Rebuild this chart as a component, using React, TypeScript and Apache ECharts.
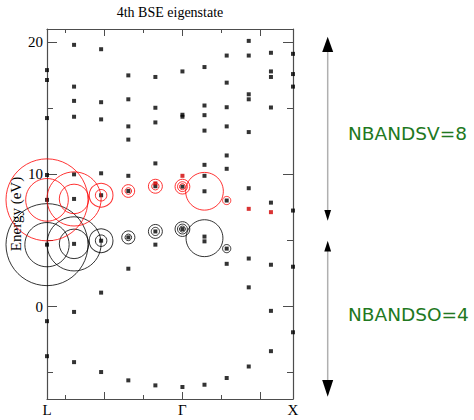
import { useEffect, useRef } from 'react';
import * as echarts from 'echarts';

// k-path positions (2pi/a), Gamma at 0
const kPoints = [-0.866, -0.693, -0.52, -0.346, -0.173, 0, 0.141, 0.283, 0.424, 0.566, 0.707];
const kLabelValues = [-0.866, 0, 0.707];
const kLabelNames = ['L', 'Γ', 'X'];
const kMajorTicks = [-0.5, 0, 0.5];
const kMinorTicks = [-0.75, -0.25, 0.25];

const energyMajorTicks = [0, 10, 20];
const energyMinorTicks = [-5, 5, 15];

// band energies (eV) at each k-point
const bandsL = [17.89, 17.14, 14.26, 9.95, 8.07, 4.68, -1.11, -3.76];
const bandsK1 = [19.8, 16.64, 15.56, 14.36, 10.0, 8.14, 4.74, -0.41, -4.21];
const bandsK2 = [19.47, 15.46, 14.16, 10.08, 8.42, 4.98, 1.05, -4.96];
const bandsK3 = [17.49, 15.68, 13.63, 12.63, 9.89, 8.74, 5.23, 2.86, -5.59];
const bandsK4 = [17.37, 15.04, 13.93, 10.83, 9.1, 5.68, 4.68, -5.97];
const bandsG = [17.79, 14.51, 14.36, 9.07, 5.86, -6.09];
const bandsK6 = [18.12, 15.21, 14.48, 13.31, 10.72, 9.89, 8.72, 5.29, 4.93, -5.92];
const bandsK7 = [18.99, 16.94, 15.08, 13.63, 11.43, 10.42, 8.02, 4.38, 3.23, -5.41];
const bandsK8 = [20.1, 18.99, 16.06, 15.68, 13.2, 8.95, 3.63, 1.45, -4.54];
const bandsK9 = [19.2, 17.79, 17.37, 15.06, 7.86, 3.16, -0.33, -3.38];
const bandsX = [19.12, 17.59, 16.64, 7.26, 3.01, -1.95];
const bandsByK = [bandsL, bandsK1, bandsK2, bandsK3, bandsK4, bandsG, bandsK6, bandsK7, bandsK8, bandsK9, bandsX];

// bands drawn in red
const redBandK = [4, 5, 8, 9];
const redBandE = [9.32, 9.89, 7.39, 7.14];

// exciton weights (circle size) on the conduction (red) and valence (black) bands
const redRingK = [0, 0, 1, 1, 2, 2, 3, 3, 4, 4, 5, 5, 5, 6, 7];
const redRingE = [8.07, 8.07, 8.14, 8.14, 8.42, 8.42, 8.74, 8.74, 9.1, 9.1, 9.07, 9.07, 9.07, 8.72, 8.02];
const redRingW = [1.0, 0.52, 0.66, 0.36, 0.29, 0.14, 0.155, 0.08, 0.17, 0.09, 0.18, 0.12, 0.073, 0.46, 0.1];

const blackRingK = [0, 0, 1, 1, 2, 2, 3, 3, 4, 4, 5, 5, 5, 6, 7];
const blackRingE = [4.68, 4.68, 4.74, 4.74, 4.98, 4.98, 5.23, 5.23, 5.68, 5.68, 5.86, 5.86, 5.86, 5.17, 4.38];
const blackRingW = [1.0, 0.54, 0.66, 0.36, 0.29, 0.14, 0.16, 0.08, 0.17, 0.1, 0.18, 0.12, 0.073, 0.45, 0.1];

const frameColor = '#4d4d4d';
const serif = 'Liberation Serif, Times New Roman, serif';
const ringScale = 82;

const xAxisFor = (position: string, ticks: number[], len: number, showLine: boolean, withLabels: boolean) => ({
  type: 'value',
  position,
  min: -0.866,
  max: 0.707,
  axisLine: { show: showLine, onZero: false, lineStyle: { color: frameColor, width: 1.2 } },
  axisTick: { show: true, inside: true, length: len, customValues: ticks, lineStyle: { color: frameColor, width: 1 } },
  axisLabel: withLabels
    ? {
        show: true,
        customValues: kLabelValues,
        showMinLabel: true,
        showMaxLabel: true,
        margin: 3,
        fontFamily: serif,
        fontSize: 15,
        color: '#000',
        formatter: (v: number) => {
          const i = kLabelValues.findIndex((c) => Math.abs(c - v) < 1e-6);
          return i >= 0 ? kLabelNames[i] : '';
        },
      }
    : { show: false },
  splitLine: { show: false },
});

const yAxisFor = (position: string, ticks: number[], len: number, showLine: boolean, withLabels: boolean) => ({
  type: 'value',
  position,
  min: -7,
  max: 21,
  axisLine: { show: showLine, onZero: false, lineStyle: { color: frameColor, width: 1.2 } },
  axisTick: { show: true, inside: true, length: len, customValues: ticks, lineStyle: { color: frameColor, width: 1 } },
  axisLabel: withLabels
    ? {
        show: true,
        customValues: energyMajorTicks,
        showMinLabel: true,
        showMaxLabel: true,
        margin: 4,
        fontFamily: serif,
        fontSize: 15,
        color: '#000',
      }
    : { show: false },
  splitLine: { show: false },
  ...(withLabels
    ? {
        name: 'Energy (eV)',
        nameLocation: 'middle',
        nameRotate: 90,
        nameGap: 24,
        nameMoveOverlap: false,
        nameTextStyle: { fontFamily: serif, fontSize: 15, color: '#000' },
      }
    : {}),
});

const App = () => {
  const chartRef = useRef<HTMLDivElement>(null);

  useEffect(() => {
    const chart = echarts.init(chartRef.current!, null, { renderer: 'svg' });

    const bandPoints: number[][] = [];
    bandsByK.forEach((list, i) => list.forEach((e) => bandPoints.push([kPoints[i], e])));
    const redPoints = redBandK.map((k, i) => [kPoints[k], redBandE[i]]);
    const redRings = redRingK.map((k, i) => [kPoints[k], redRingE[i], redRingW[i]]);
    const blackRings = blackRingK.map((k, i) => [kPoints[k], blackRingE[i], blackRingW[i]]);

    const arrowLine = { stroke: '#b0b0b0', lineWidth: 1.5 };
    const ax = 327.7;

    chart.setOption({
      animation: false,
      backgroundColor: '#fff',
      grid: { left: 47, top: 29, width: 246, height: 370 },
      xAxis: [
        xAxisFor('bottom', kMajorTicks, 7, true, true),
        xAxisFor('bottom', kMinorTicks, 4, false, false),
        xAxisFor('top', kMajorTicks, 7, true, false),
        xAxisFor('top', kMinorTicks, 4, false, false),
      ],
      yAxis: [
        yAxisFor('left', energyMajorTicks, 10, true, true),
        yAxisFor('left', energyMinorTicks, 6, false, false),
        yAxisFor('right', energyMajorTicks, 10, true, false),
        yAxisFor('right', energyMinorTicks, 6, false, false),
      ],
      series: [
        {
          type: 'scatter',
          data: bandPoints,
          symbol: 'rect',
          symbolSize: 4,
          itemStyle: { color: '#000' },
          clip: false,
          silent: true,
        },
        {
          type: 'scatter',
          data: blackRings,
          symbol: 'circle',
          symbolSize: (v: number[]) => v[2] * ringScale,
          itemStyle: { color: 'rgba(0,0,0,0)', borderColor: '#000', borderWidth: 1 },
          clip: false,
          silent: true,
        },
        {
          type: 'scatter',
          data: redRings,
          symbol: 'circle',
          symbolSize: (v: number[]) => v[2] * ringScale,
          itemStyle: { color: 'rgba(0,0,0,0)', borderColor: '#ff0000', borderWidth: 1 },
          clip: false,
          silent: true,
        },
        {
          type: 'scatter',
          data: redPoints,
          symbol: 'rect',
          symbolSize: 4,
          itemStyle: { color: '#d00000' },
          clip: false,
          silent: true,
        },
      ],
      graphic: [
        {
          type: 'text',
          x: 170,
          y: 12,
          style: { text: '4th BSE eigenstate', fontFamily: serif, fontSize: 14, fill: '#000', textAlign: 'center', textVerticalAlign: 'middle' },
        },
        { type: 'line', shape: { x1: ax, y1: 50, x2: ax, y2: 212 }, style: arrowLine },
        { type: 'polygon', shape: { points: [[ax, 36.7], [ax - 5.5, 52], [ax + 5.5, 52]] }, style: { fill: '#000' } },
        { type: 'polygon', shape: { points: [[ax, 220.7], [ax - 3.4, 210], [ax + 3.4, 210]] }, style: { fill: '#000' } },
        { type: 'line', shape: { x1: ax, y1: 250, x2: ax, y2: 382 }, style: arrowLine },
        { type: 'polygon', shape: { points: [[ax, 240.7], [ax - 3.4, 251.4], [ax + 3.4, 251.4]] }, style: { fill: '#000' } },
        { type: 'polygon', shape: { points: [[ax, 396.7], [ax - 5.5, 380], [ax + 5.5, 380]] }, style: { fill: '#000' } },
        {
          type: 'text',
          x: 348,
          y: 133.5,
          style: { text: 'NBANDSV=8', fontFamily: 'DejaVu Sans', fontSize: 18.5, fill: '#217821', textVerticalAlign: 'middle' },
        },
        {
          type: 'text',
          x: 348,
          y: 314,
          style: { text: 'NBANDSO=4', fontFamily: 'DejaVu Sans', fontSize: 18.5, fill: '#217821', textVerticalAlign: 'middle' },
        },
      ],
    });

    return () => {
      chart.dispose();
    };
  }, []);

  return <div ref={chartRef} style={{ position: 'fixed', left: 0, top: 0, width: 474, height: 420, background: '#fff' }} />;
};

export default App;
